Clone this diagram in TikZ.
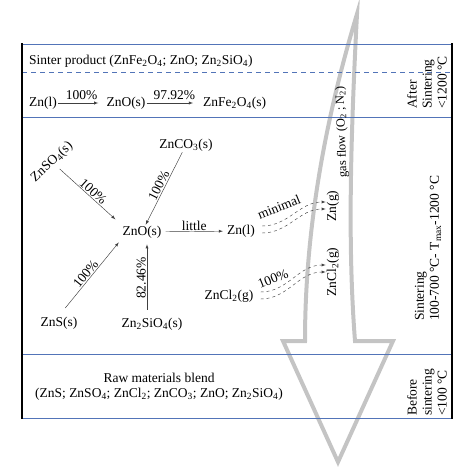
\documentclass[tikz,border=0pt]{standalone}
\usepackage{fontspec}
\setmainfont{Liberation Serif}
\newcommand{\chsub}[1]{\textsubscript{#1}}
\definecolor{sepblue}{RGB}{82,116,184}
\definecolor{flowgray}{RGB}{196,196,196}

\begin{document}
\begin{tikzpicture}[x=1pt, y=-1pt,
    every node/.style={font=\fontsize{13.5}{15}\selectfont, inner sep=1pt},
    rxn/.style={draw=black!75, line width=0.45pt, -latex},
    vap/.style={draw=black!75, line width=0.45pt, dashed, -latex},
    stagelbl/.style={rotate=90, align=left, anchor=west},
    sepline/.style={draw=sepblue, line width=0.8pt}]

  \useasboundingbox (0,0) rectangle (474,474);

  % Constants
  \def\xl{22}  % left edge of the table
  \def\xr{452} % right edge of the table

  % Gas flow arrow
  \draw[flowgray, line width=4pt]
    (357,14) .. controls (325,120) and (305,230) .. (305,341)
    -- (283,341) -- (338,462) -- (393,341) -- (355,341)
    .. controls (348,250) and (350,150) .. cycle;

  % Frame
  \foreach \yy in {44,117,354,418}
    \draw[sepline] (\xl,\yy) -- (\xr,\yy);
  \draw[sepline, dash pattern=on 5pt off 4pt] (\xl,72) -- (\xr,72);
  \draw[line width=1.6pt] (\xl,43) -- (\xl,419) (\xr,43) -- (\xr,419);

  % After sintering
  \node[anchor=west] (sinter) at (28,61)
    {Sinter product (ZnFe\chsub{2}O\chsub{4}; ZnO; Zn\chsub{2}SiO\chsub{4})};
  \node (znlA) at (43,103) {Zn(l)};
  \node (znoA) at (126,103) {ZnO(s)};
  \node[anchor=west] (znfe) at (202,103) {ZnFe\chsub{2}O\chsub{4}(s)};
  \draw[rxn, shorten >=7pt] (znlA) -- (znoA) node[midway, above=2pt] {100\%};
  \draw[rxn, shorten >=9pt] (znoA) -- (znfe) node[midway, above=2pt] {97.92\%};
  \node[stagelbl] (after) at (427,110) {After\\Sintering\\<1200 °C};

  % Sintering
  \node[rotate=43] (znso4) at (52,162) {ZnSO\chsub{4}(s)};
  \node (znco3) at (186,145) {ZnCO\chsub{3}(s)};
  \node (zno) at (142,232) {ZnO(s)};
  \node (zns) at (59,323) {ZnS(s)};
  \node (zn2sio4) at (152,324) {Zn\chsub{2}SiO\chsub{4}(s)};
  \node (znl) at (241,231) {Zn(l)};
  \node (zncl2) at (229,296) {ZnCl\chsub{2}(g)};
  \node[rotate=90] (zng) at (333,206) {Zn(g)};
  \node[rotate=90] (zncl2g) at (333,272) {ZnCl\chsub{2}(g)};
  \node[rotate=92, font=\fontsize{12.5}{14}\selectfont] (gas) at (342,132)
    {gas flow (O\chsub{2} ; N\chsub{2})};

  \draw[rxn, shorten <=3pt, shorten >=8pt] (znso4) -- (zno.north west)
    node[midway, sloped, above] {100\%};
  \draw[rxn] (znco3) -- (zno) node[midway, sloped, above] {100\%};
  \draw[rxn, shorten <=10pt, shorten >=4pt] (zns.north) -- (zno.south west)
    node[midway, sloped, above] {100\%};
  \draw[rxn, shorten <=7pt, shorten >=5pt] ([xshift=-5pt]zn2sio4.north) -- ([xshift=5pt]zno.south)
    node[midway, sloped, above] {82.46\%};
  \draw[rxn, shorten <=3pt, shorten >=3pt] (zno) -- (znl) node[midway, above] {little};

  % Evaporation to the gas phase
  \draw[vap] ([xshift=6pt,yshift=5pt]znl.east) to[out=0,in=180] ([yshift=4pt]zng.north);
  \draw[vap] ([xshift=6pt,yshift=-2pt]znl.east) to[out=0,in=180] ([yshift=-3pt]zng.north);
  \node[rotate=22] (minimal) at (279,207) {minimal};
  \draw[vap] ([xshift=6pt,yshift=4pt]zncl2.east) to[out=0,in=180] ([yshift=7pt]zncl2g.north);
  \draw[vap] ([xshift=6pt,yshift=-3pt]zncl2.east) to[out=0,in=180] ([yshift=0pt]zncl2g.north);
  \node[rotate=22] (clpct) at (273,279) {100\%};
  \node[stagelbl] (sintering) at (428,322) {Sintering\\100-700 °C- T\chsub{max}-1200 °C};

  % Before sintering
  \node[align=center] (raw) at (159,387) {Raw materials blend\\(ZnS; ZnSO\chsub{4}; ZnCl\chsub{2}; ZnCO\chsub{3}; ZnO; Zn\chsub{2}SiO\chsub{4})};
  \node[stagelbl] (before) at (427,417) {Before\\sintering\\<100 °C};

\end{tikzpicture}
\end{document}
